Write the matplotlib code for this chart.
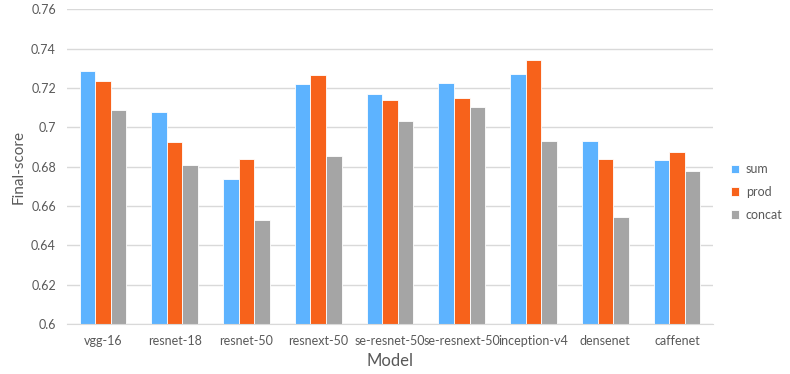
import numpy as np
import matplotlib.pyplot as plt

plt.rcParams['font.family'] = ['Lato', 'DejaVu Sans']

models = ['vgg-16', 'resnet-18', 'resnet-50', 'resnext-50', 'se-resnet-50',
          'se-resnext-50', 'inception-v4', 'densenet', 'caffenet']
sum_vals = [0.7286, 0.7079, 0.6738, 0.7222, 0.7168, 0.7227, 0.7271, 0.6929, 0.6835]
prod_vals = [0.7237, 0.6927, 0.6839, 0.7269, 0.7141, 0.7149, 0.7343, 0.6839, 0.6874]
concat_vals = [0.7089, 0.6807, 0.6529, 0.6856, 0.7035, 0.7105, 0.6929, 0.6546, 0.6776]

series = [('sum', sum_vals, '#5DB3FF'),
          ('prod', prod_vals, '#F7621B'),
          ('concat', concat_vals, '#A5A5A5')]

txt = '#595959'
fig = plt.figure(figsize=(7.9, 3.74), dpi=100)
ax = fig.add_axes([0.0848, 0.1337, 0.8177, 0.8409])

x = np.arange(len(models))
w = 0.217
for i, (name, vals, col) in enumerate(series):
    ax.bar(x + (i - 1) * w, vals, width=w, color=col, label=name,
           edgecolor='white', linewidth=0.6, zorder=3)

ax.set_ylim(0.6, 0.76)
ax.set_xlim(-0.5, len(models) - 0.5)
ax.set_yticks(np.arange(0.6, 0.7601, 0.02))
ax.set_yticklabels(['0.6', '0.62', '0.64', '0.66', '0.68', '0.7', '0.72', '0.74', '0.76'])
ax.set_xticks(x)
ax.set_xticklabels(models)
ax.tick_params(length=0, labelsize=9, colors=txt, pad=8)
ax.grid(axis='y', color='#D9D9D9', linewidth=1, zorder=0)
for s in ['top', 'right', 'left']:
    ax.spines[s].set_visible(False)
ax.spines['bottom'].set_color('#D9D9D9')
ax.spines['bottom'].set_zorder(4)

ax.set_xlabel('Model', fontsize=12, color=txt, labelpad=4)
ax.set_ylabel('Final-score', fontsize=11, color=txt, labelpad=4)

leg = ax.legend(loc='center left', bbox_to_anchor=(1.01, 0.42), frameon=False,
                fontsize=9, handlelength=0.7, handleheight=0.7,
                handletextpad=0.5, labelspacing=0.85)
for t in leg.get_texts():
    t.set_color(txt)

fig.savefig('out.png', dpi=100)
